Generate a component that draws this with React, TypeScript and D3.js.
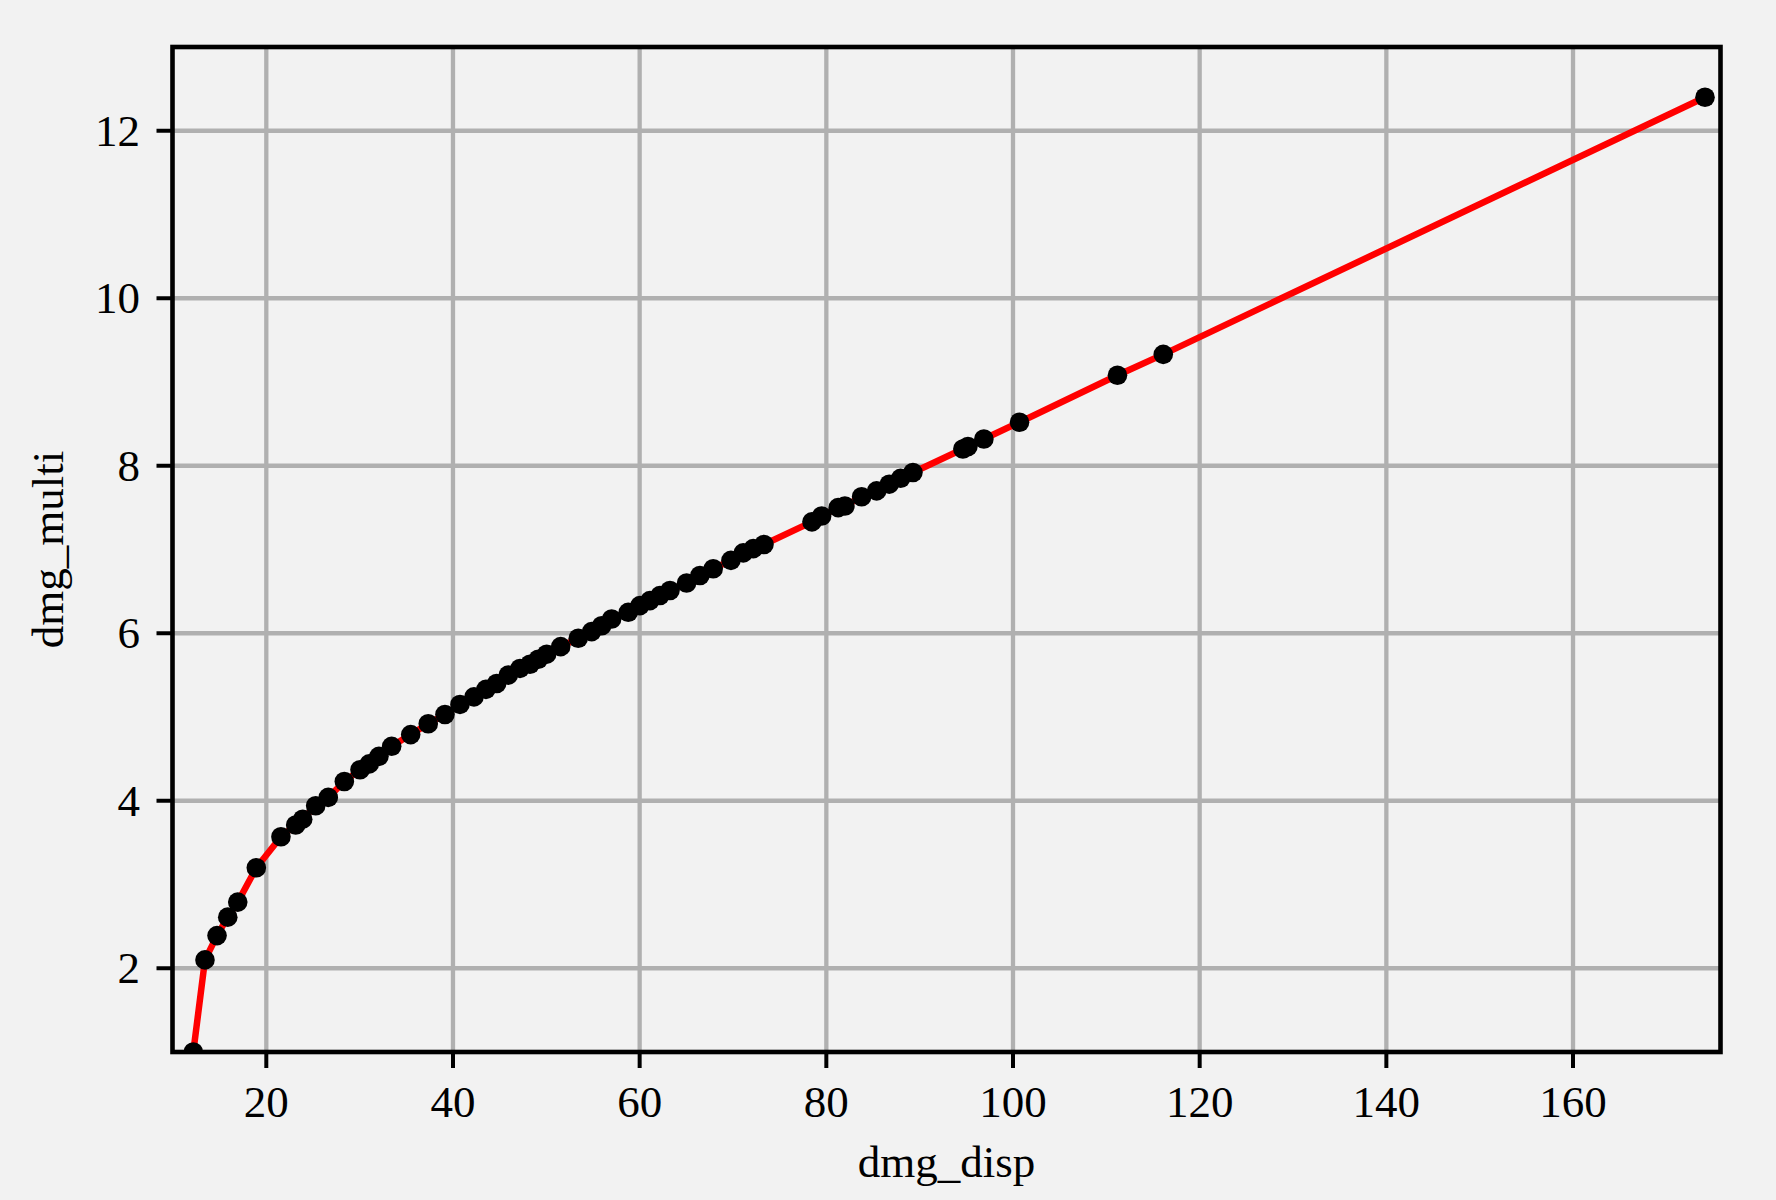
import React from "react";
import * as d3 from "d3";

const dmgDisp: number[] = [
  12.18, 13.43, 14.72, 15.87, 16.94, 18.93, 21.57, 23.15, 23.9, 25.29,
  26.64, 28.36, 30.04, 31.03, 32.07, 33.43, 35.47, 37.35, 39.14, 40.75,
  42.25, 43.53, 44.68, 45.92, 47.18, 48.25, 49.14, 50.04, 51.54, 53.42,
  54.86, 55.93, 57.0, 58.78, 60.03, 61.1, 62.17, 63.25, 65.03, 66.46,
  67.88, 69.78, 71.1, 72.17, 73.32, 78.46, 79.5, 81.27, 81.99, 83.78,
  85.39, 86.74, 87.96, 89.28, 94.63, 95.17, 96.88, 100.7, 111.19, 116.1,
  174.14,
];
const dmgMulti: number[] = [
  1.0, 2.1, 2.39, 2.61, 2.79, 3.2, 3.57, 3.71, 3.78, 3.94,
  4.04, 4.23, 4.37, 4.44, 4.53, 4.65, 4.79, 4.92, 5.03, 5.15,
  5.24, 5.33, 5.4, 5.5, 5.58, 5.63, 5.69, 5.75, 5.84, 5.94,
  6.02, 6.09, 6.17, 6.25, 6.33, 6.39, 6.45, 6.51, 6.6, 6.69,
  6.77, 6.87, 6.96, 7.01, 7.06, 7.33, 7.4, 7.5, 7.52, 7.63,
  7.7, 7.78, 7.85, 7.92, 8.2, 8.23, 8.32, 8.52, 9.08, 9.33,
  12.4,
];
const xTicks: number[] = [20, 40, 60, 80, 100, 120, 140, 160];
const yTicks: number[] = [2, 4, 6, 8, 10, 12];
const xDomain: [number, number] = [9.95, 175.8];
const yDomain: [number, number] = [1, 13];
const xLabel = "dmg_disp";
const yLabel = "dmg_multi";

const W = 1776;
const H = 1200;
const L = 172.5;
const R = 1720.5;
const T = 47;
const B = 1052;
const FONT = "'Liberation Serif', 'Times New Roman', serif";

export default function App() {
  const x = d3.scaleLinear().domain(xDomain).range([L, R]);
  const y = d3.scaleLinear().domain(yDomain).range([B, T]);
  const pts = dmgDisp.map((d, i) => [d, dmgMulti[i]] as [number, number]);
  const line = d3
    .line<[number, number]>()
    .x((d) => x(d[0]))
    .y((d) => y(d[1]));
  const gridColor = "#b0b0b0";
  return (
    <svg
      width={W}
      height={H}
      style={{ position: "absolute", left: 0, top: 0, background: "#f2f2f2" }}
      fontFamily={FONT}
    >
      <defs>
        <clipPath id="plotclip">
          <rect x={L} y={T} width={R - L} height={B - T} />
        </clipPath>
      </defs>
      <rect x={0} y={0} width={W} height={H} fill="#f2f2f2" />
      <rect x={L} y={T} width={R - L} height={B - T} fill="#f2f2f2" />
      {xTicks.map((t) => (
        <line key={"gx" + t} x1={x(t)} x2={x(t)} y1={T} y2={B} stroke={gridColor} strokeWidth={4.3} />
      ))}
      {yTicks.map((t) => (
        <line key={"gy" + t} x1={L} x2={R} y1={y(t)} y2={y(t)} stroke={gridColor} strokeWidth={4.3} />
      ))}
      <g clipPath="url(#plotclip)">
        <path d={line(pts) || ""} fill="none" stroke="#ff0000" strokeWidth={6.5} strokeLinejoin="round" />
        {pts.map((p, i) => (
          <circle key={i} cx={x(p[0])} cy={y(p[1])} r={9.8} fill="#000" />
        ))}
      </g>
      <rect x={L} y={T} width={R - L} height={B - T} fill="none" stroke="#000" strokeWidth={4.6} />
      {xTicks.map((t) => (
        <g key={"tx" + t}>
          <line x1={x(t)} x2={x(t)} y1={B} y2={B + 16} stroke="#000" strokeWidth={4} />
          <text x={x(t)} y={1117} textAnchor="middle" fontSize={45} fill="#000">
            {t}
          </text>
        </g>
      ))}
      {yTicks.map((t) => (
        <g key={"ty" + t}>
          <line x1={L - 16} x2={L} y1={y(t)} y2={y(t)} stroke="#000" strokeWidth={4} />
          <text x={140} y={y(t) + 15} textAnchor="end" fontSize={45} fill="#000">
            {t}
          </text>
        </g>
      ))}
      <text x={(L + R) / 2} y={1177} textAnchor="middle" fontSize={45} fill="#000">
        {xLabel}
      </text>
      <text
        transform={`translate(63, ${(T + B) / 2}) rotate(-90)`}
        textAnchor="middle"
        fontSize={45}
        fill="#000"
      >
        {yLabel}
      </text>
    </svg>
  );
}
